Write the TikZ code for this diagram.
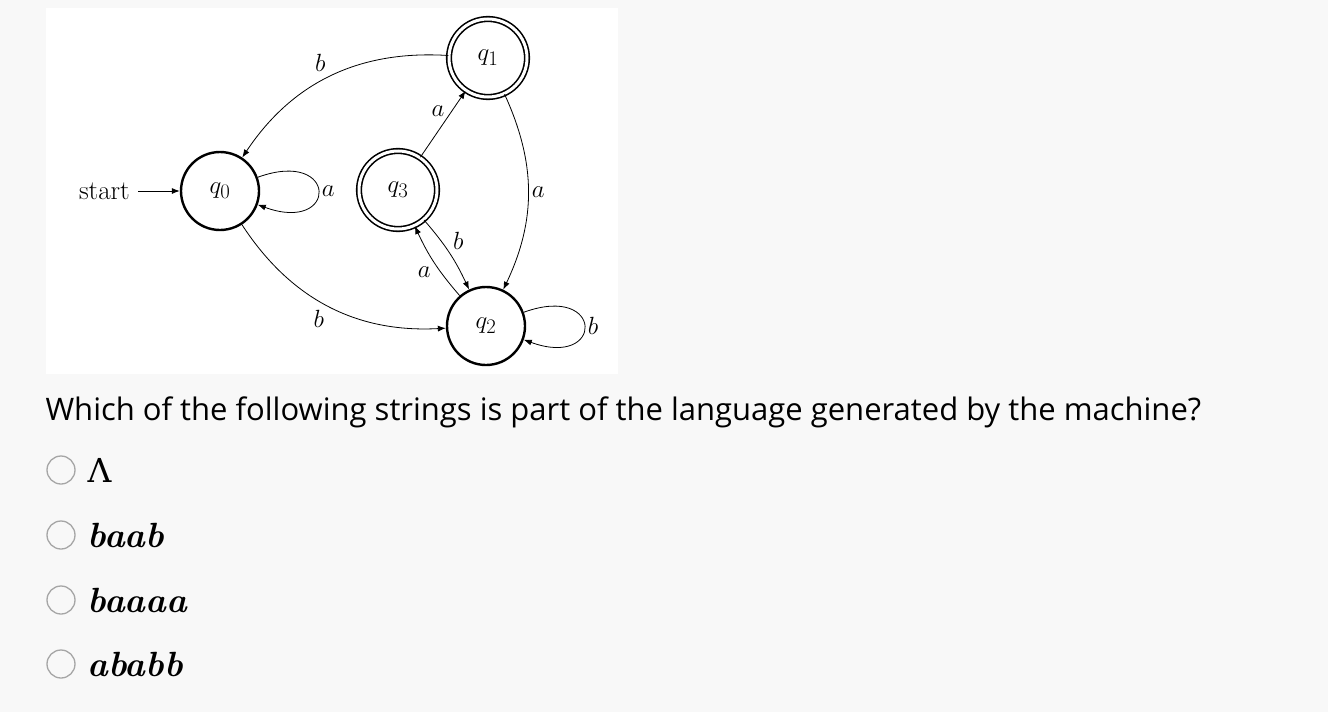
\documentclass[tikz,border=0pt]{standalone}
\usepackage{fontspec}
\setmainfont{Open Sans}
\newfontfamily\lmfont{Latin Modern Roman}
\newfontfamily\lamfont{DejaVu Serif}
\usetikzlibrary{arrows.meta}
\begin{document}
\begin{tikzpicture}[x=1pt,y=-1pt,
  st/.style={circle,draw,line width=2.4pt,minimum size=78pt,inner sep=0pt,font=\lmfont\fontsize{28}{30}\selectfont},
  acc/.style={st,double,double distance=3pt,line width=1.6pt},
  tr/.style={draw,line width=0.8pt,-{Latex[length=8pt,width=6pt]}},
  lb/.style={font=\lmfont\fontsize{23}{25}\selectfont},
  radio/.style={circle,draw=gray!70,line width=1.3pt,minimum size=28pt,inner sep=0pt},
  ans/.style={anchor=west,font=\lmfont\fontsize{35}{38}\selectfont\bfseries\itshape}]
\path[fill={rgb,255:red,248;green,248;blue,248}] (0,0) rectangle (1328,712);
\path[fill=white] (46,8) rectangle (618,374);
\node[st] (q0) at (220,191) {$q_0$};
\node[acc] (q1) at (488,58) {$q_1$};
\node[acc] (q3) at (398,190) {$q_3$};
\node[st] (q2) at (486,326) {$q_2$};
\node[anchor=east,inner sep=2pt,font=\lmfont\fontsize{27}{29}\selectfont] (s) at (132,191) {start};
\draw[tr] ([xshift=6pt]s.east) -- (q0);
\draw[tr] (q1) to[bend right=30] node[lb,above=6pt,pos=0.55]{$b$} (q0);
\draw[tr] (q0) to[out=20,in=-20,looseness=8] node[lb,right]{$a$} (q0);
\draw[tr] (q3) -- node[lb,left=4pt,pos=0.7]{$a$} (q1);
\draw[tr] (q1) to[bend left=25] node[lb,right]{$a$} (q2);
\draw[tr] (q3) to[bend left=8] node[lb,above right]{$b$} (q2);
\draw[tr] (q2) to[bend left=8] node[lb,below left]{$a$} (q3);
\draw[tr] (q0) to[bend right=30] node[lb,below=6pt,pos=0.45]{$b$} (q2);
\draw[tr] (q2) to[out=20,in=-20,looseness=8] node[lb,right]{$b$} (q2);
\node[anchor=west,font=\fontsize{31}{34}\selectfont] (qt) at (42,412) {Which of the following strings is part of the language generated by the machine?};
\foreach \y/\t [count=\i] in {470/{\lamfont\upshape\mdseries\fontsize{33}{36}\selectfont Λ}, 535/baab, 600/baaaa, 664/ababb}{
  \node[radio] (r\i) at (61,\y) {};
  \node[ans] (a\i) at (84,\y) {\t};
}
\end{tikzpicture}
\end{document}
